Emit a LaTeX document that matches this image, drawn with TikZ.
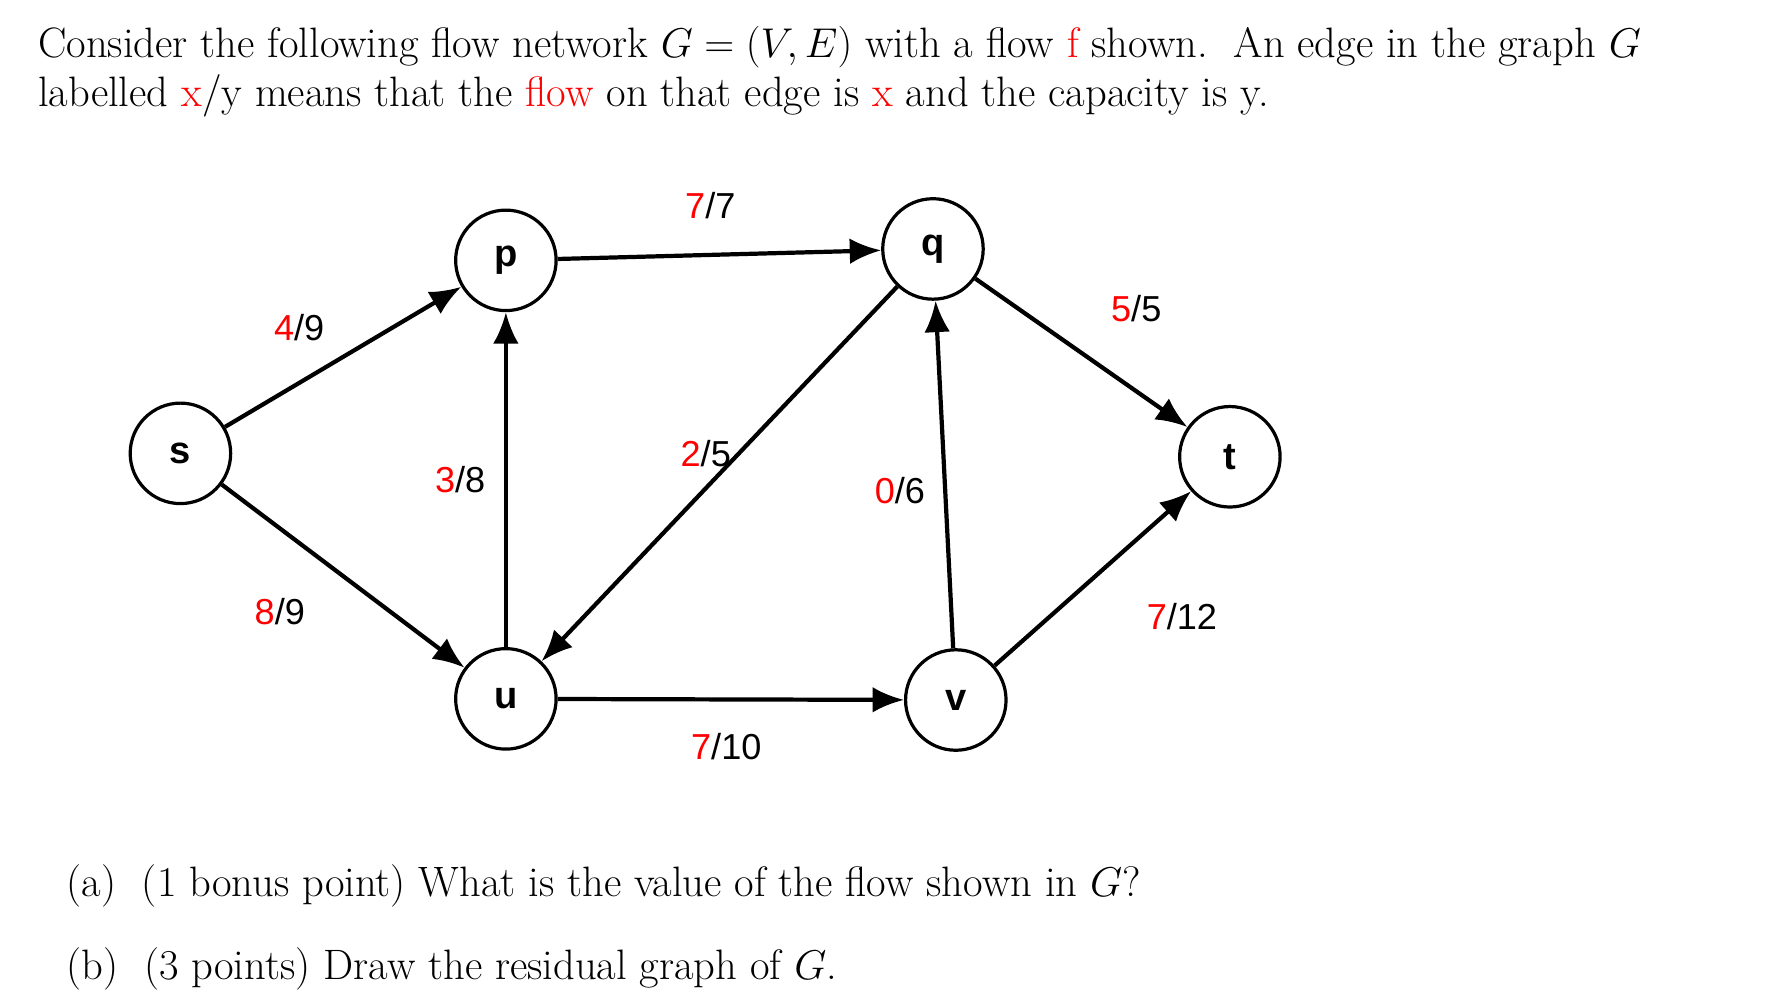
\documentclass[tikz,border=0pt]{standalone}
\usepackage{fontspec}
\newfontfamily\lsans{Liberation Sans}
\tikzset{
 vx/.style={circle,draw,line width=1.6pt,minimum size=1.76cm,inner sep=0pt,font=\lsans\bfseries\fontsize{19}{19}\selectfont},
 ed/.style={-{Latex[length=0.55cm,width=0.45cm]},line width=2.1pt},
 lb/.style={font=\lsans\fontsize{18}{18}\selectfont},
 tx/.style={anchor=base west,inner sep=0pt,font=\fontsize{21.2}{24}\selectfont}
}
\usetikzlibrary{arrows.meta}
\begin{document}
\begin{tikzpicture}[x=0.02cm,y=-0.02cm]
\useasboundingbox (0,0) rectangle (1550,870.5);
\node[tx,text width=29.74cm,align=justify] (l1) at (33,50) {\parfillskip=0pt Consider the following flow network $G=(V,E)$ with a flow \textcolor{red}{f} shown.\ \ An edge in the graph $G$};
\node[tx] (l2) at (33,93) {labelled \textcolor{red}{x}/y means that the \textcolor{red}{flow} on that edge is \textcolor{red}{x} and the capacity is y.};
\node[vx] (s) at (158,397) {s};
\node[vx] (p) at (443,228) {p};
\node[vx] (q) at (817,218) {q};
\node[vx] (t) at (1077,400) {t};
\node[vx] (u) at (443,612) {u};
\node[vx] (v) at (837,613) {v};
\draw[ed] (s) -- (p);
\draw[ed] (s) -- (u);
\draw[ed] (p) -- (q);
\draw[ed] (u) -- (p);
\draw[ed] (q) -- (u);
\draw[ed] (v) -- (q);
\draw[ed] (q) -- (t);
\draw[ed] (u) -- (v);
\draw[ed] (v) -- (t);
\node[lb] (a) at (622,180) {\textcolor{red}{7}/7};
\node[lb] (b) at (262,287) {\textcolor{red}{4}/9};
\node[lb] (c) at (995,270) {\textcolor{red}{5}/5};
\node[lb] (d) at (403,420) {\textcolor{red}{3}/8};
\node[lb] (e) at (618,397) {\textcolor{red}{2}/5};
\node[lb] (f) at (788,430) {\textcolor{red}{0}/6};
\node[lb] (g) at (245,536) {\textcolor{red}{8}/9};
\node[lb] (h) at (1035,540) {\textcolor{red}{7}/12};
\node[lb] (i) at (636,654) {\textcolor{red}{7}/10};
\node[tx] (qa) at (58,785) {(a)\ \ (1 bonus point) What is the value of the flow shown in $G$?};
\node[tx] (qb) at (58,858) {(b)\ \ (3 points) Draw the residual graph of $G$.};
\end{tikzpicture}
\end{document}
